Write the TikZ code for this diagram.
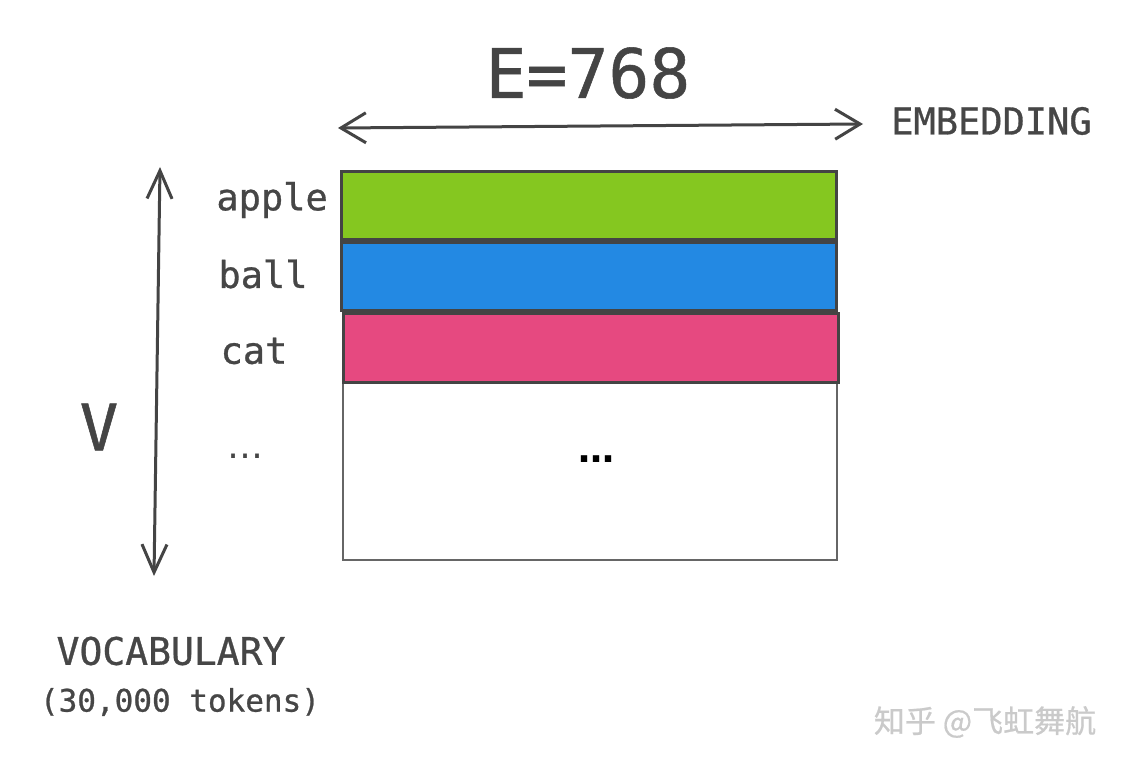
\documentclass[tikz,border=0pt]{standalone}
\usepackage{fontspec}
\setmonofont{DejaVu Sans Mono}[FakeBold=0.8]
\newfontfamily\dejasans{DejaVu Sans}
\newfontfamily\cjk{Noto Sans CJK SC}[FakeBold=0.6]
\usetikzlibrary{arrows.meta}
\definecolor{inkgray}{HTML}{444444}
\definecolor{textgray}{HTML}{464646}
\definecolor{rowgreen}{HTML}{85C720}
\definecolor{rowblue}{HTML}{2389E3}
\definecolor{rowpink}{HTML}{E64980}
\definecolor{markgray}{HTML}{CACACA}
\tikzset{
  rowbox/.style={draw=inkgray, line width=3pt, minimum width=495pt, minimum height=68pt, inner sep=0pt},
  restbox/.style={draw=black!60, line width=2pt, fill=white, minimum width=494pt, minimum height=178pt, inner sep=0pt},
  label/.style={font=\ttfamily\fontsize{37}{40}\selectfont, text=textgray, inner sep=0pt},
  dimarrow/.style={draw=inkgray, line width=3pt, {Straight Barb[length=25pt,width=30pt]}-{Straight Barb[length=25pt,width=30pt]}},
}
\begin{document}
\begin{tikzpicture}[x=1pt,y=-1pt]
\useasboundingbox[fill=white] (0,0) rectangle (1136,770);
% rows
\node[restbox] (rest) at (590,471) {};
\node[rowbox, fill=rowgreen] (apple) at (589,205.5) {};
\node[rowbox, fill=rowblue] (ball) at (589,276.5) {};
\node[rowbox, fill=rowpink] (cat) at (591,348) {};
\node[font=\dejasans\bfseries\fontsize{36}{40}\selectfont, text=black, inner sep=0pt] (dots) at (596,459) {…};
% row labels
\node[label, anchor=east] (lapple) at (328,200) {apple};
\node[label] (lball) at (263,274) {ball};
\node[label] (lcat) at (254,351) {cat};
\node[font=\dejasans\fontsize{36}{40}\selectfont, text=textgray, inner sep=0pt] (ldots) at (245,456) {…};
% embedding arrow
\coordinate (eleft) at (338,128);
\coordinate (eright) at (863,124);
\draw[dimarrow] (eleft) -- (eright);
\node[font=\ttfamily\fontsize{68}{72}\selectfont, text=inkgray, inner sep=0pt] (E) at (588,73) {E=768};
\node[label, anchor=west] (emb) at (891,121) {EMBEDDING};
% vocabulary arrow
\coordinate (vtop) at (160,167);
\coordinate (vbot) at (154,576);
\draw[dimarrow, {Straight Barb[length=28pt,width=25pt]}-{Straight Barb[length=28pt,width=25pt]}] (vtop) -- (vbot);
\node[font=\ttfamily\fontsize{64}{68}\selectfont, text=inkgray, inner sep=0pt] (V) at (99,427) {V};
\node[font=\ttfamily\fontsize{38}{42}\selectfont, text=textgray, inner sep=0pt] (voc) at (171,651) {VOCABULARY};
\node[font=\ttfamily\fontsize{31}{34}\selectfont, text=textgray, inner sep=0pt] (tok) at (180,702) {(30,000 tokens)};
% watermark
\node[font=\cjk\fontsize{31}{34}\selectfont, text=markgray, inner sep=0pt] (mark) at (985,722) {知乎 @飞虹舞航};
\end{tikzpicture}
\end{document}
